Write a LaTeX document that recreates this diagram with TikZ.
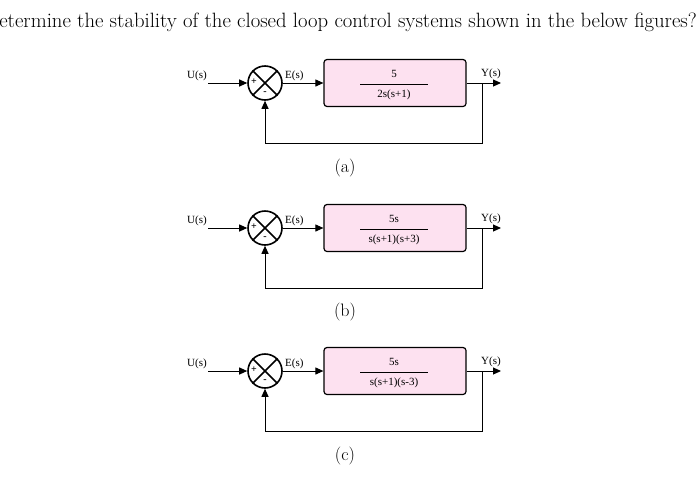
\documentclass[tikz,border=0pt]{standalone}
\usepackage{fontspec}
\newfontfamily\tms{Liberation Serif}
\usetikzlibrary{arrows.meta}
\definecolor{boxpink}{RGB}{253,225,240}
\tikzset{
  sig/.style={line width=1pt,-{Triangle[length=8pt,width=7pt]}},
  blk/.style={draw,line width=1.2pt,rounded corners=3pt,fill=boxpink,minimum width=142pt,minimum height=47pt},
  sum/.style={draw,circle,line width=1.6pt,minimum size=34pt,inner sep=0pt},
  lbl/.style={font=\tms\fontsize{11}{12}\selectfont,inner sep=1pt},
  small/.style={font=\tms\bfseries\fontsize{10}{10}\selectfont,inner sep=0pt},
  figcap/.style={font=\fontsize{18}{20}\selectfont}
}
\newcommand{\loopsys}[4]{%
  \node[sum] (#1s) at (265,#2) {};
  \draw[line width=1.6pt] (#1s.north west) -- (#1s.south east) (#1s.north east) -- (#1s.south west);
  \node[small] at (254,#2-1) {+};
  \node[small] at (265,#2+10) {-};
  \node[blk] (#1b) at (395,#2) {};
  \draw[line width=0.8pt] (360,#2+1) -- (428,#2+1);
  \node[lbl] at (394,#2-9) {#3};
  \node[lbl] at (394,#2+12) {#4};
  \node[lbl,anchor=south west] (#1u) at (186,#2-1) {U(s)};
  \coordinate (#1in) at (208,#2);
  \draw[sig] (#1in) -- (#1s.west);
  \draw[sig] (#1s.east) -- (#1b.west);
  \node[lbl,anchor=south west] (#1e) at (284,#2-1) {E(s)};
  \coordinate (#1br) at (482,#2);
  \coordinate (#1out) at (501,#2);
  \draw[sig] (#1b.east) -- (#1out);
  \node[lbl,anchor=south] (#1y) at (491,#2-3) {Y(s)};
  \coordinate (#1c1) at (482,#2+60);
  \coordinate (#1c2) at (265,#2+60);
  \draw[sig] (#1br) -- (#1c1) -- (#1c2) -- (#1s.south);
}
\begin{document}
\begin{tikzpicture}[x=1pt,y=-1pt]
\useasboundingbox (0,0) rectangle (700,477);
\fill[white] (0,0) rectangle (700,477);
\begin{scope}
\clip (0,0) rectangle (700,477);
\node[anchor=east,font=\fontsize{20.7}{23}\selectfont,inner sep=0pt] (title) at (697,22) {Determine the stability of the closed loop control systems shown in the below figures?};
\end{scope}
\loopsys{a}{83}{5}{2s(s+1)}
\loopsys{b}{228}{5s}{s(s+1)(s+3)}
\loopsys{c}{371}{5s}{s(s+1)(s-3)}
\node[figcap] (la) at (345,168) {(a)};
\node[figcap] (lb) at (345,312) {(b)};
\node[figcap] (lc) at (345,456) {(c)};
\end{tikzpicture}
\end{document}
